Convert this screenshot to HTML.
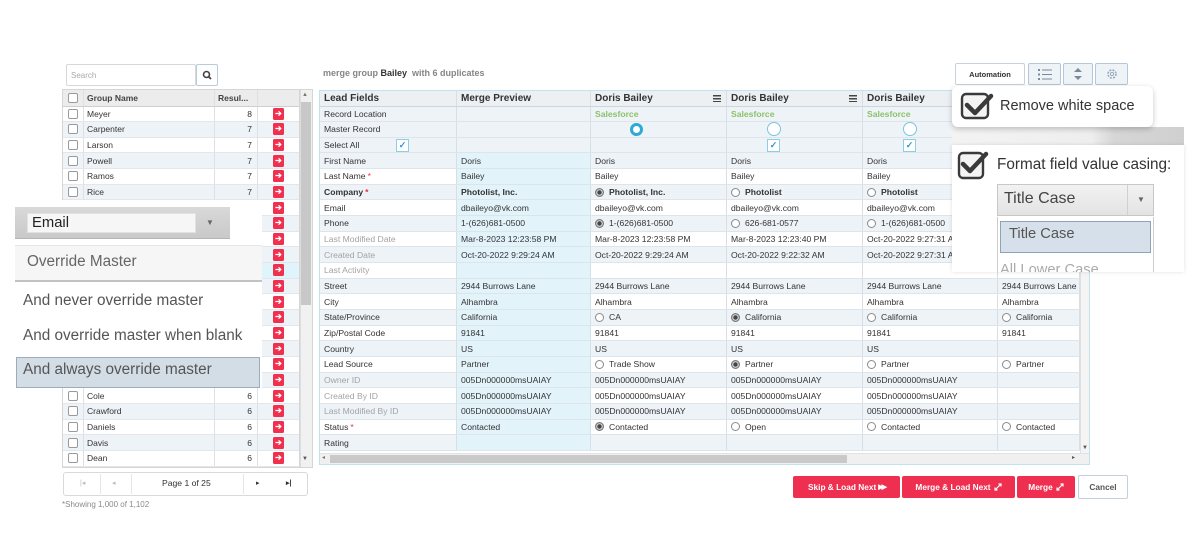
<!DOCTYPE html>
<html><head><meta charset="utf-8">
<style>
*{box-sizing:border-box;margin:0;padding:0}
html,body{width:1200px;height:546px;overflow:hidden;background:#fff}
body{position:relative;font-family:"Liberation Sans",Arial,sans-serif;color:#333}
.a{position:absolute}
/* left grid */
.lg{left:63px;top:90px;width:237px;height:377px;background:#fff}
.lg .h{display:flex;height:16.5px;background:#ececec;border-bottom:1px solid #cfcfcf;font-size:8.5px;font-weight:bold;color:#444}
.lg .r{display:flex;height:15.67px;border-bottom:1px solid #e3e7eb;font-size:8.5px;color:#333}
.lg .rows .r:nth-child(even){background:#eef3f8}
.lg .rows .r.hl{background:#e0f4fc}
.lg .h>div,.lg .r>div{border-right:1px solid #dde1e6;height:100%;display:flex;align-items:center;white-space:nowrap;overflow:hidden}
.k{width:21px}.n{width:131px;padding-left:3px}.v{width:43px;justify-content:flex-end;padding-right:5px}.x{width:42px;justify-content:center}
.cb{width:10px;height:10px;border:1px solid #9a9a9a;border-radius:2px;background:#fff;margin-left:5px}
.ar{width:11px;height:12px;background:#f0304f;border-radius:1.5px;color:#fff;font-size:8px;line-height:12px;text-align:center;font-weight:bold}
/* main table */
.mt{left:319px;top:90px;width:771px;height:375px;border:1px solid #c2e3ee;background:#fff;overflow:hidden}
.mt .h{display:flex;height:15.5px;background:#edf0f3;border-bottom:1px solid #cdd6de;font-size:10px;font-weight:bold;color:#333}
.mt .r{display:flex;height:15.67px;border-bottom:1px solid #dde4ea;font-size:8.6px;color:#333}
.mt .r.L{background:#eef3f8}
.mt .h>div,.mt .r>div{position:relative;border-right:1px solid #d6dee6;height:100%;display:flex;align-items:center;white-space:nowrap;overflow:hidden;padding-left:4px;flex:none}
.c0{width:137px}.c1{width:134px}.c2{width:136px}.c3{width:136px}.c4{width:135px}.c5{width:82px}
.mt .r>div.m{background:#e2f3fa}
.g{color:#a3a3a3}
.st{color:#e8314a;margin-left:2px}
.b{font-weight:bold}
.sf{color:#8cc269;font-weight:bold}
.rd{display:inline-block;width:9px;height:9px;border:1px solid #8a8a8a;border-radius:50%;background:#fff;margin-right:5px;flex:none}
.rd.on{background:#454545;border-color:#777;box-shadow:inset 0 0 0 1.3px #d0d0d0}
.mn{position:absolute;right:5px;top:4px;width:8px;height:7px;background:linear-gradient(#444,#444) top/100% 1.5px no-repeat,linear-gradient(#444,#444) center/100% 1.5px no-repeat,linear-gradient(#444,#444) bottom/100% 1.5px no-repeat}
.ring{width:13px;height:13px;border-radius:50%;border:3px solid #2fa9d6;background:#fff;margin-left:35px}
.circ{width:14px;height:14px;border-radius:50%;border:1.5px solid #7cc3dc;background:#fff;margin-left:36px}
.chk{width:13px;height:13px;border:1px solid #8ccfe4;background:#fff;color:#3a8fd0;font-size:9px;line-height:11px;text-align:center;font-weight:bold}
.btn{top:476px;height:22px;background:#ef2f4f;border-radius:2px;color:#fff;font-size:8.3px;font-weight:bold;display:flex;align-items:center;justify-content:center;white-space:nowrap}
.ib{top:63px;height:22px;background:#eef3f8;border:1px solid #b5c7d8;border-radius:2px;display:flex;align-items:center;justify-content:center}
</style></head><body>

<!-- Search -->
<div class="a" style="left:66px;top:64px;width:130px;height:22px;border:1px solid #d8d8d8;border-radius:2px;font-size:8px;color:#aaa;padding:6px 4px">Search</div>
<div class="a" style="left:196px;top:64px;width:22px;height:22px;border:1px solid #b8ccdc;border-radius:2px;background:#fff">
<svg width="20" height="20" viewBox="0 0 20 20"><circle cx="9.5" cy="9.5" r="3" fill="none" stroke="#444" stroke-width="1.6"/><path d="M11.7 11.7 L14 14" stroke="#444" stroke-width="1.8"/></svg></div>

<!-- Left grid -->
<div class="a lg" style="outline:1px solid #d6d6d6">
<div class="h"><div class="k"><span class="cb"></span></div><div class="n">Group Name</div><div class="v" style="justify-content:flex-start;padding-left:3px">Resul...</div><div class="x"></div></div>
<div class="rows">
<div class="r"><div class="k"><span class="cb"></span></div><div class="n">Meyer</div><div class="v">8</div><div class="x"><span class="ar">➔</span></div></div>
<div class="r"><div class="k"><span class="cb"></span></div><div class="n">Carpenter</div><div class="v">7</div><div class="x"><span class="ar">➔</span></div></div>
<div class="r"><div class="k"><span class="cb"></span></div><div class="n">Larson</div><div class="v">7</div><div class="x"><span class="ar">➔</span></div></div>
<div class="r"><div class="k"><span class="cb"></span></div><div class="n">Powell</div><div class="v">7</div><div class="x"><span class="ar">➔</span></div></div>
<div class="r"><div class="k"><span class="cb"></span></div><div class="n">Ramos</div><div class="v">7</div><div class="x"><span class="ar">➔</span></div></div>
<div class="r"><div class="k"><span class="cb"></span></div><div class="n">Rice</div><div class="v">7</div><div class="x"><span class="ar">➔</span></div></div>
<div class="r"><div class="k"><span class="cb"></span></div><div class="n">Adams</div><div class="v">7</div><div class="x"><span class="ar">➔</span></div></div>
<div class="r"><div class="k"><span class="cb"></span></div><div class="n">Allen</div><div class="v">7</div><div class="x"><span class="ar">➔</span></div></div>
<div class="r"><div class="k"><span class="cb"></span></div><div class="n">Bell</div><div class="v">6</div><div class="x"><span class="ar">➔</span></div></div>
<div class="r"><div class="k"><span class="cb"></span></div><div class="n">Brooks</div><div class="v">6</div><div class="x"><span class="ar">➔</span></div></div>
<div class="r hl"><div class="k"><span class="cb"></span></div><div class="n">Butler</div><div class="v">6</div><div class="x"><span class="ar">➔</span></div></div>
<div class="r"><div class="k"><span class="cb"></span></div><div class="n">Campbell</div><div class="v">6</div><div class="x"><span class="ar">➔</span></div></div>
<div class="r"><div class="k"><span class="cb"></span></div><div class="n">Carter</div><div class="v">6</div><div class="x"><span class="ar">➔</span></div></div>
<div class="r"><div class="k"><span class="cb"></span></div><div class="n">Clark</div><div class="v">6</div><div class="x"><span class="ar">➔</span></div></div>
<div class="r"><div class="k"><span class="cb"></span></div><div class="n">Collins</div><div class="v">6</div><div class="x"><span class="ar">➔</span></div></div>
<div class="r"><div class="k"><span class="cb"></span></div><div class="n">Cook</div><div class="v">6</div><div class="x"><span class="ar">➔</span></div></div>
<div class="r"><div class="k"><span class="cb"></span></div><div class="n">Cooper</div><div class="v">6</div><div class="x"><span class="ar">➔</span></div></div>
<div class="r"><div class="k"><span class="cb"></span></div><div class="n">Cox</div><div class="v">6</div><div class="x"><span class="ar">➔</span></div></div>
<div class="r"><div class="k"><span class="cb"></span></div><div class="n">Cole</div><div class="v">6</div><div class="x"><span class="ar">➔</span></div></div>
<div class="r"><div class="k"><span class="cb"></span></div><div class="n">Crawford</div><div class="v">6</div><div class="x"><span class="ar">➔</span></div></div>
<div class="r"><div class="k"><span class="cb"></span></div><div class="n">Daniels</div><div class="v">6</div><div class="x"><span class="ar">➔</span></div></div>
<div class="r"><div class="k"><span class="cb"></span></div><div class="n">Davis</div><div class="v">6</div><div class="x"><span class="ar">➔</span></div></div>
<div class="r"><div class="k"><span class="cb"></span></div><div class="n">Dean</div><div class="v">6</div><div class="x"><span class="ar">➔</span></div></div>
</div></div>
<!-- left scrollbar -->
<div class="a" style="left:300px;top:90px;width:12px;height:377px;background:#f1f1f1;border-left:1px solid #ddd;outline:1px solid #d6d6d6"></div>
<div class="a" style="left:301px;top:102px;width:10px;height:203px;background:#c8c8c8"></div>
<div class="a" style="left:302px;top:92px;font-size:6px;color:#777">▲</div>
<div class="a" style="left:302px;top:456px;font-size:6px;color:#555">▼</div>

<!-- pagination -->
<div class="a" style="left:63px;top:472px;width:245px;height:24px;border:1px solid #d9d9d9;border-radius:3px;background:#fff"></div>
<div class="a" style="left:100px;top:474px;width:1px;height:20px;background:#e6e6e6"></div>
<div class="a" style="left:131px;top:474px;width:1px;height:20px;background:#e6e6e6"></div>
<div class="a" style="left:243px;top:474px;width:1px;height:20px;background:#e6e6e6"></div>
<div class="a" style="left:80px;top:479px;font-size:7px;color:#bbb">|◂</div>
<div class="a" style="left:112px;top:479px;font-size:7px;color:#bbb">◂</div>
<div class="a" style="left:162px;top:478px;font-size:8.6px;color:#333">Page 1 of 25</div>
<div class="a" style="left:256px;top:479px;font-size:7px;color:#333">▸</div>
<div class="a" style="left:286px;top:479px;font-size:7px;color:#333;font-weight:bold">▸|</div>
<div class="a" style="left:62px;top:500px;font-size:8px;color:#8a8a8a">*Showing 1,000 of 1,102</div>

<!-- left overlay -->
<div class="a" style="left:15px;top:200px;width:247px;height:188px;background:#fff"></div>
<div class="a" style="left:15px;top:207px;width:215px;height:32px;background:linear-gradient(#d9d9d9,#c9c9c9);border-bottom:1px solid #b5b5b5"></div>
<div class="a" style="left:27px;top:213px;width:169px;height:20px;background:#f6f6f6;border:1px solid #e2e2e2"></div>
<div class="a" style="left:32px;top:215px;font-size:14.8px;color:#222">Email</div>
<div class="a" style="left:206px;top:218px;font-size:8px;color:#666">▼</div>
<div class="a" style="left:15px;top:245px;width:247px;height:37px;background:#f6f6f6;border-top:1px solid #e6e6e6;border-bottom:2px solid #c2c2c2"></div>
<div class="a" style="left:27px;top:253px;font-size:15.3px;color:#666">Override Master</div>
<div class="a" style="left:23px;top:292px;font-size:15.3px;color:#555">And never override master</div>
<div class="a" style="left:23px;top:327px;font-size:15.3px;color:#555">And override master when blank</div>
<div class="a" style="left:16px;top:357px;width:244px;height:31px;background:#d3dde6;border:1px solid #9eacb8"></div>
<div class="a" style="left:23px;top:361px;font-size:15.3px;color:#555">And always override master</div>

<!-- title -->
<div class="a" style="left:323px;top:68px;font-size:9px;font-weight:bold;color:#858585;white-space:nowrap">merge group <span style="color:#333">Bailey</span>&nbsp; with 6 duplicates</div>

<!-- main table -->
<div class="a mt">
<div class="h"><div class="c0">Lead Fields</div><div class="c1">Merge Preview</div><div class="c2">Doris Bailey<i class="mn"></i></div><div class="c3">Doris Bailey<i class="mn"></i></div><div class="c4">Doris Bailey<i class="mn"></i></div><div class="c5">Doris Bailey</div></div>
<div class="r L"><div class="c0">Record Location</div><div class="c1"></div><div class="c2"><span class="sf">Salesforce</span></div><div class="c3"><span class="sf">Salesforce</span></div><div class="c4"><span class="sf">Salesforce</span></div><div class="c5"><span class="sf">Salesforce</span></div></div>
<div class="r L"><div class="c0">Master Record</div><div class="c1"></div><div class="c2"><span class="ring"></span></div><div class="c3"><span class="circ"></span></div><div class="c4"><span class="circ"></span></div><div class="c5"><span class="circ"></span></div></div>
<div class="r L"><div class="c0">Select All<span class="chk a" style="left:76px;top:1px">✓</span></div><div class="c1"></div><div class="c2"></div><div class="c3"><span class="chk" style="margin-left:36px">✓</span></div><div class="c4"><span class="chk" style="margin-left:36px">✓</span></div><div class="c5"></div></div>
<div class="r L"><div class="c0">First Name</div><div class="c1 m">Doris</div><div class="c2">Doris</div><div class="c3">Doris</div><div class="c4">Doris</div><div class="c5"></div></div>
<div class="r"><div class="c0">Last Name<span class="st">*</span></div><div class="c1 m">Bailey</div><div class="c2">Bailey</div><div class="c3">Bailey</div><div class="c4">Bailey</div><div class="c5"></div></div>
<div class="r L"><div class="c0 b">Company<span class="st">*</span></div><div class="c1 m b">Photolist, Inc.</div><div class="c2 b"><span class="rd on"></span>Photolist, Inc.</div><div class="c3 b"><span class="rd"></span>Photolist</div><div class="c4 b"><span class="rd"></span>Photolist</div><div class="c5"></div></div>
<div class="r"><div class="c0">Email</div><div class="c1 m">dbaileyo@vk.com</div><div class="c2">dbaileyo@vk.com</div><div class="c3">dbaileyo@vk.com</div><div class="c4">dbaileyo@vk.com</div><div class="c5"></div></div>
<div class="r L"><div class="c0">Phone</div><div class="c1 m">1-(626)681-0500</div><div class="c2"><span class="rd on"></span>1-(626)681-0500</div><div class="c3"><span class="rd"></span>626-681-0577</div><div class="c4"><span class="rd"></span>1-(626)681-0500</div><div class="c5"></div></div>
<div class="r"><div class="c0 g">Last Modified Date</div><div class="c1 m">Mar-8-2023 12:23:58 PM</div><div class="c2">Mar-8-2023 12:23:58 PM</div><div class="c3">Mar-8-2023 12:23:40 PM</div><div class="c4">Oct-20-2022 9:27:31 AM</div><div class="c5"></div></div>
<div class="r L"><div class="c0 g">Created Date</div><div class="c1 m">Oct-20-2022 9:29:24 AM</div><div class="c2">Oct-20-2022 9:29:24 AM</div><div class="c3">Oct-20-2022 9:22:32 AM</div><div class="c4">Oct-20-2022 9:27:31 AM</div><div class="c5"></div></div>
<div class="r"><div class="c0 g">Last Activity</div><div class="c1 m"></div><div class="c2"></div><div class="c3"></div><div class="c4"></div><div class="c5"></div></div>
<div class="r L"><div class="c0">Street</div><div class="c1 m">2944 Burrows Lane</div><div class="c2">2944 Burrows Lane</div><div class="c3">2944 Burrows Lane</div><div class="c4">2944 Burrows Lane</div><div class="c5">2944 Burrows Lane</div></div>
<div class="r"><div class="c0">City</div><div class="c1 m">Alhambra</div><div class="c2">Alhambra</div><div class="c3">Alhambra</div><div class="c4">Alhambra</div><div class="c5">Alhambra</div></div>
<div class="r L"><div class="c0">State/Province</div><div class="c1 m">California</div><div class="c2"><span class="rd"></span>CA</div><div class="c3"><span class="rd on"></span>California</div><div class="c4"><span class="rd"></span>California</div><div class="c5"><span class="rd"></span>California</div></div>
<div class="r"><div class="c0">Zip/Postal Code</div><div class="c1 m">91841</div><div class="c2">91841</div><div class="c3">91841</div><div class="c4">91841</div><div class="c5">91841</div></div>
<div class="r L"><div class="c0">Country</div><div class="c1 m">US</div><div class="c2">US</div><div class="c3">US</div><div class="c4">US</div><div class="c5"></div></div>
<div class="r"><div class="c0">Lead Source</div><div class="c1 m">Partner</div><div class="c2"><span class="rd"></span>Trade Show</div><div class="c3"><span class="rd on"></span>Partner</div><div class="c4"><span class="rd"></span>Partner</div><div class="c5"><span class="rd"></span>Partner</div></div>
<div class="r L"><div class="c0 g">Owner ID</div><div class="c1 m">005Dn000000msUAIAY</div><div class="c2">005Dn000000msUAIAY</div><div class="c3">005Dn000000msUAIAY</div><div class="c4">005Dn000000msUAIAY</div><div class="c5"></div></div>
<div class="r"><div class="c0 g">Created By ID</div><div class="c1 m">005Dn000000msUAIAY</div><div class="c2">005Dn000000msUAIAY</div><div class="c3">005Dn000000msUAIAY</div><div class="c4">005Dn000000msUAIAY</div><div class="c5"></div></div>
<div class="r L"><div class="c0 g">Last Modified By ID</div><div class="c1 m">005Dn000000msUAIAY</div><div class="c2">005Dn000000msUAIAY</div><div class="c3">005Dn000000msUAIAY</div><div class="c4">005Dn000000msUAIAY</div><div class="c5"></div></div>
<div class="r"><div class="c0">Status<span class="st">*</span></div><div class="c1 m">Contacted</div><div class="c2"><span class="rd on"></span>Contacted</div><div class="c3"><span class="rd"></span>Open</div><div class="c4"><span class="rd"></span>Contacted</div><div class="c5"><span class="rd"></span>Contacted</div></div>
<div class="r L"><div class="c0">Rating</div><div class="c1 m"></div><div class="c2"></div><div class="c3"></div><div class="c4"></div><div class="c5"></div></div>
<!-- v scrollbar -->
<div class="a" style="right:0;top:0;width:9px;height:362px;background:#f4f4f4;border-left:1px solid #e0e0e0"></div>
<div class="a" style="right:1px;top:354px;font-size:6px;color:#555">▼</div>
<!-- h scrollbar -->
<div class="a" style="left:0;top:362px;width:769px;height:11px;background:#f0f0f0;border-top:1px solid #e2e2e2"></div>
<div class="a" style="left:10px;top:364px;width:517px;height:8px;background:#c9c9c9"></div>
<div class="a" style="left:2px;top:363px;font-size:6px;color:#777">◂</div>
<div class="a" style="left:752px;top:363px;font-size:6px;color:#555">▸</div>
</div>

<!-- top right buttons -->
<div class="a" style="left:955px;top:63px;width:70px;height:22px;border:1px solid #c8d2dc;border-radius:2px;background:#fff;font-size:7.5px;font-weight:bold;color:#333;display:flex;align-items:center;justify-content:center">Automation</div>
<div class="a ib" style="left:1028px;width:33px"><svg width="14" height="11" viewBox="0 0 14 11"><g fill="#7a8a9a"><rect x="0" y="0" width="2" height="2"/><rect x="0" y="4.5" width="2" height="2"/><rect x="0" y="9" width="2" height="2"/><rect x="4" y="0.5" width="10" height="1"/><rect x="4" y="5" width="10" height="1"/><rect x="4" y="9.5" width="10" height="1"/></g></svg></div>
<div class="a ib" style="left:1063px;width:30px"><svg width="8" height="12" viewBox="0 0 8 12"><path d="M4 0 L8 4 L0 4Z M4 12 L8 8 L0 8Z" fill="#7a8a9a"/></svg></div>
<div class="a ib" style="left:1095px;width:33px"><svg width="12" height="12" viewBox="0 0 12 12"><circle cx="6" cy="6" r="4" fill="none" stroke="#9aaaba" stroke-width="1.6" stroke-dasharray="2 1.2"/><circle cx="6" cy="6" r="1.6" fill="none" stroke="#9aaaba" stroke-width="1"/></svg></div>

<!-- right cards -->
<div class="a" style="left:952px;top:127px;width:232px;height:19px;background:linear-gradient(90deg,#f3f3f3 0%,#eeeeee 60%,#d6d6d6 70%,#d0d0d0 100%)"></div>
<div class="a" style="left:952px;top:86px;width:201px;height:41px;background:#fff;border-radius:6px;box-shadow:0 2px 6px rgba(0,0,0,.22)"></div>
<svg class="a" style="left:960px;top:92px" width="34" height="28" viewBox="0 0 34 28"><rect x="2" y="2" width="26" height="24" rx="4" fill="#f4f4f4" stroke="#3a3a3a" stroke-width="2.4"/><path d="M7 13 L15 21 L31 4" fill="none" stroke="#3a3a3a" stroke-width="4.5" stroke-linecap="round" stroke-linejoin="round"/></svg>
<div class="a" style="left:1000px;top:98px;font-size:14.5px;color:#333;white-space:nowrap">Remove white space</div>

<div class="a" style="left:952px;top:145px;width:232px;height:127px;background:#fff;overflow:hidden;box-shadow:0 0 4px rgba(0,0,0,.12)">
<svg class="a" style="left:5px;top:6px" width="34" height="30" viewBox="0 0 34 30"><rect x="2" y="2" width="24" height="25" rx="4" fill="#f4f4f4" stroke="#3a3a3a" stroke-width="2.4"/><path d="M6 13 L13 20 L29 3" fill="none" stroke="#3a3a3a" stroke-width="4.5" stroke-linecap="round" stroke-linejoin="round"/></svg>
<div class="a" style="left:45px;top:11px;font-size:15.3px;color:#333;white-space:nowrap">Format field value casing:</div>
<div class="a" style="left:45px;top:39px;width:157px;height:32px;background:linear-gradient(#f2f2f2,#e3e3e3);border:1px solid #c8c8c8"></div>
<div class="a" style="left:175px;top:40px;width:1px;height:30px;background:#d0d0d0"></div>
<div class="a" style="left:52px;top:45px;font-size:16px;color:#444;white-space:nowrap">Title Case</div>
<div class="a" style="left:185px;top:50px;font-size:8px;color:#666">▼</div>
<div class="a" style="left:45px;top:72px;width:157px;height:60px;border-left:1px solid #ccc;border-right:1px solid #ccc;background:#fff"></div>
<div class="a" style="left:48px;top:76px;width:151px;height:32px;background:#d6e0ea;border:1px solid #8fa3b5"></div>
<div class="a" style="left:57px;top:81px;font-size:14.7px;color:#555;white-space:nowrap">Title Case</div>
<div class="a" style="left:48px;top:117px;font-size:14.7px;color:#aaa;white-space:nowrap">All Lower Case</div>
</div>

<!-- bottom buttons -->
<div class="a btn" style="left:793px;width:107px">Skip &amp; Load Next <span style="font-size:7px;margin-left:2px;letter-spacing:-2px">▶▶</span></div>
<div class="a btn" style="left:902px;width:113px">Merge &amp; Load Next <svg style="margin-left:3px" width="8" height="8" viewBox="0 0 8 8"><path d="M1 7 L7 1 M4.5 1 H7 V3.5 M1 4.5 V7 H3.5" stroke="#fff" stroke-width="1.2" fill="none"/></svg></div>
<div class="a btn" style="left:1017px;width:58px">Merge <svg style="margin-left:3px" width="8" height="8" viewBox="0 0 8 8"><path d="M1 7 L7 1 M4.5 1 H7 V3.5 M1 4.5 V7 H3.5" stroke="#fff" stroke-width="1.2" fill="none"/></svg></div>
<div class="a" style="left:1078px;top:475px;width:50px;height:24px;border:1px solid #c5d0dc;border-radius:2px;background:#fff;color:#555;font-size:8.3px;font-weight:bold;display:flex;align-items:center;justify-content:center">Cancel</div>

</body></html>
